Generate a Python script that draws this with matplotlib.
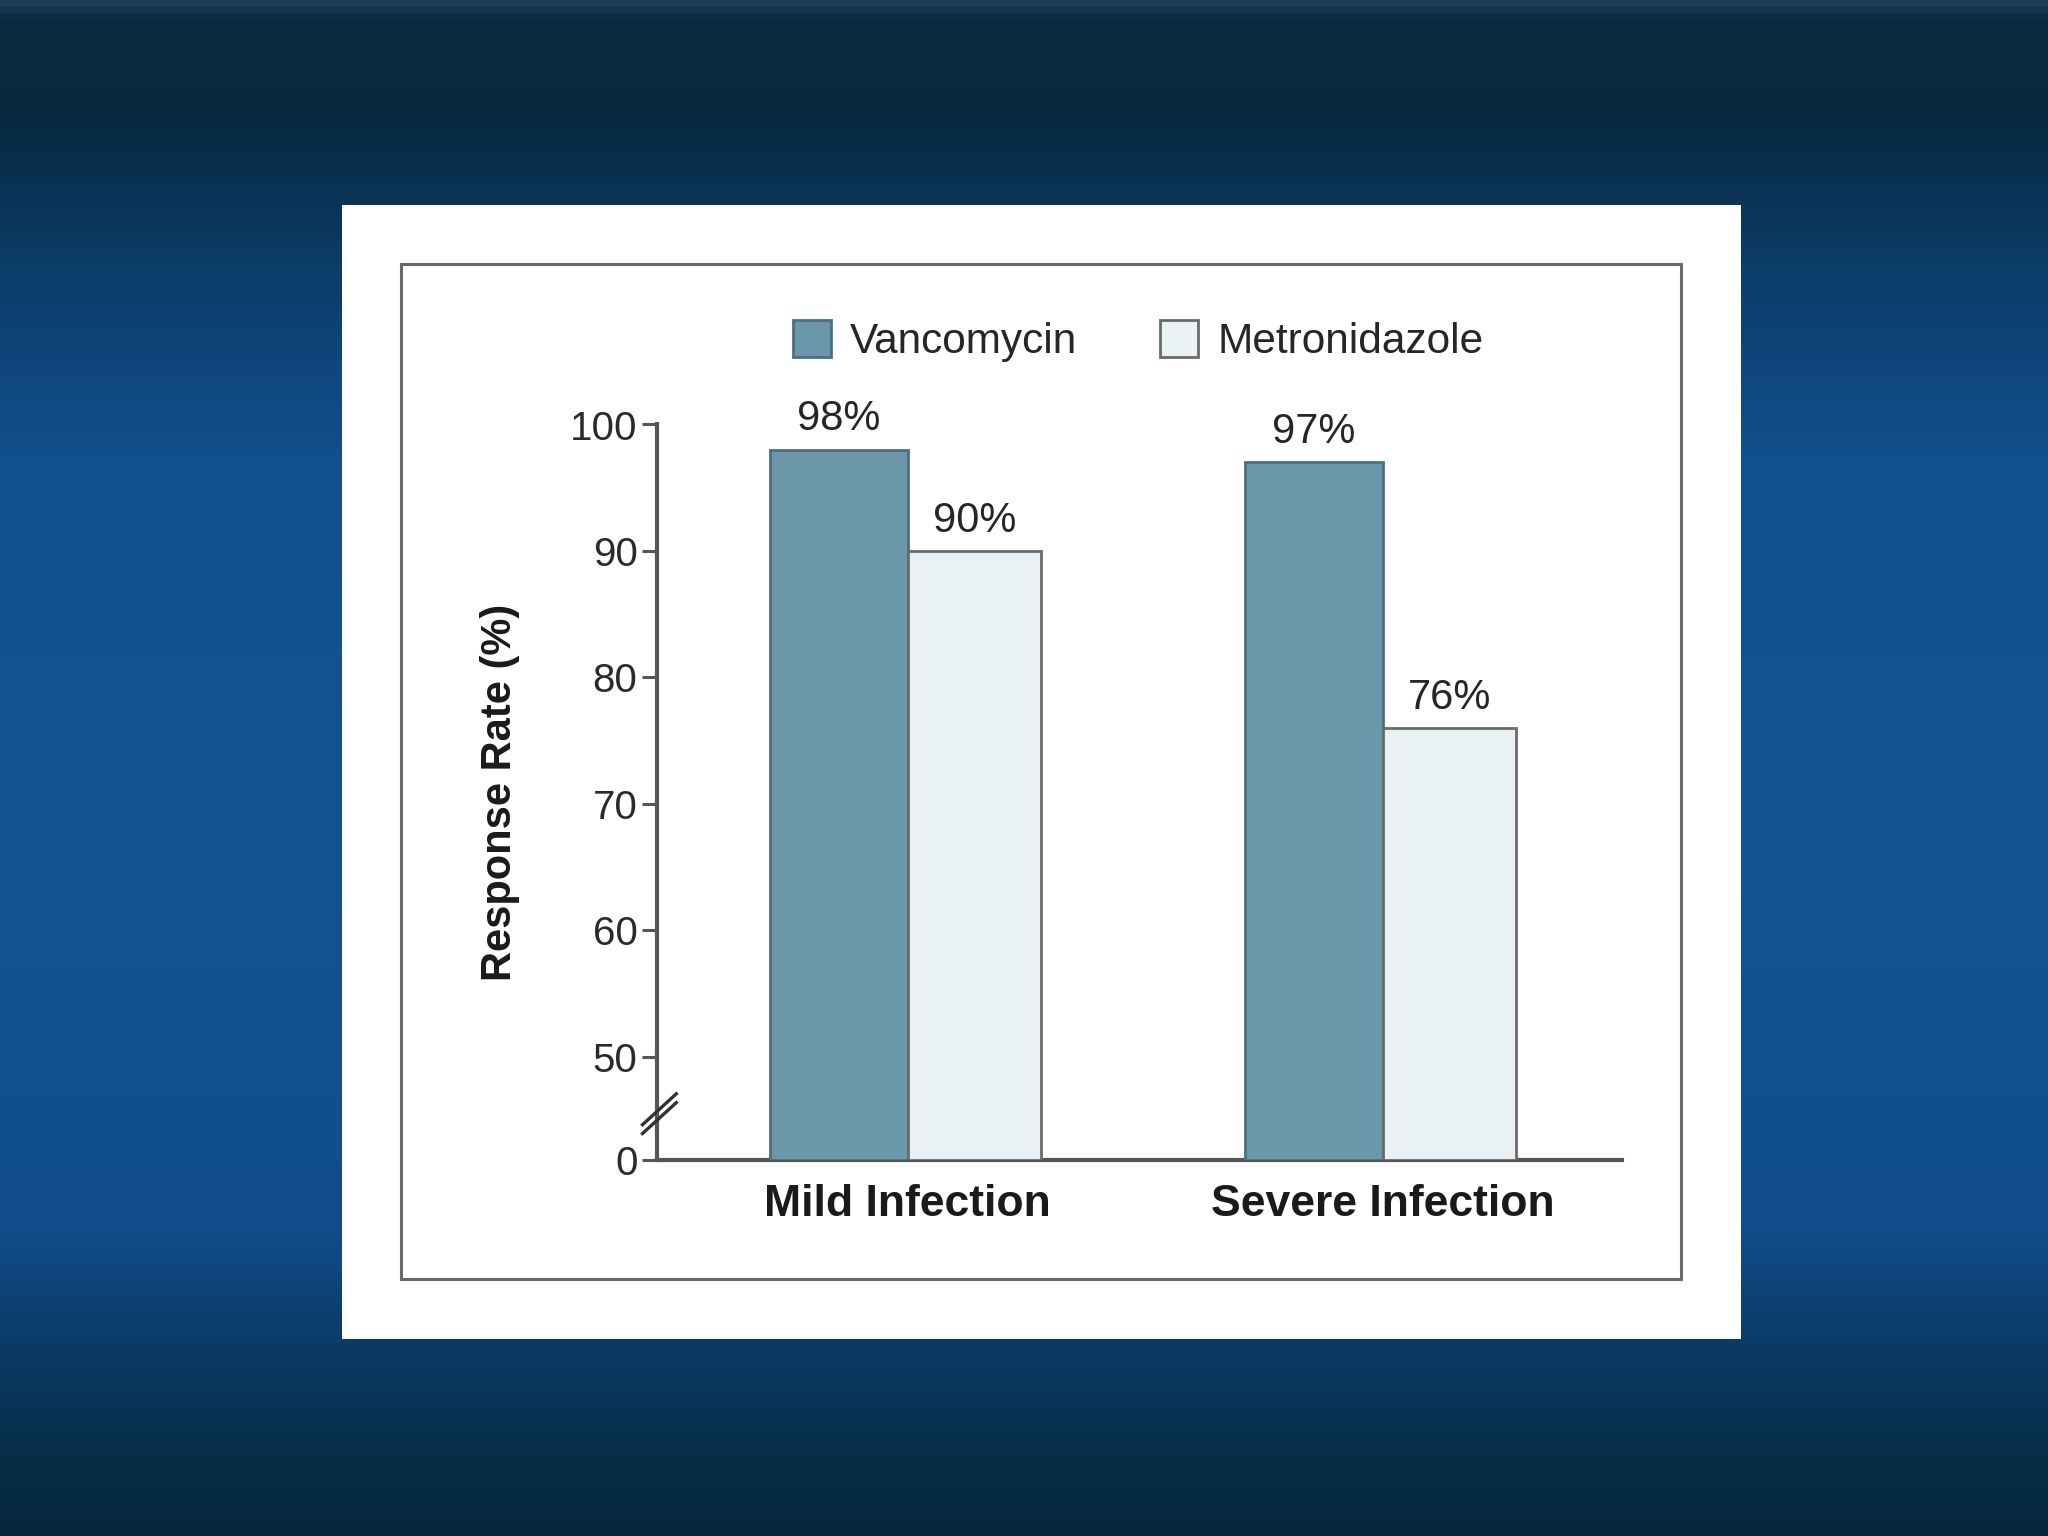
import numpy as np
import matplotlib
matplotlib.use("Agg")
import matplotlib.pyplot as plt
from matplotlib.patches import Rectangle, Patch
from matplotlib.colors import LinearSegmentedColormap

# ---- data ----
categories = ["Mild Infection", "Severe Infection"]
series_names = ["Vancomycin", "Metronidazole"]
vancomycin = [98, 97]
metronidazole = [90, 76]
ytick_values = [0, 50, 60, 70, 80, 90, 100]
ytick_labels = ["0", "50", "60", "70", "80", "90", "100"]
ylabel = "Response Rate (%)"

# ---- style ----
plt.rcParams["font.family"] = ["Liberation Sans", "DejaVu Sans"]
W, H = 2048, 1536
fig = plt.figure(figsize=(W / 100, H / 100), dpi=100)

# background gradient
bg = fig.add_axes([0, 0, 1, 1], zorder=-10)
bg.set_axis_off()
cmap = LinearSegmentedColormap.from_list(
    "bgblue",
    [(0.0, "#1b3d58"), (0.01, "#0b2a40"), (0.08, "#082a42"), (0.17, "#0c3c68"),
     (0.30, "#12508e"), (0.55, "#145393"), (0.80, "#114d8b"), (0.88, "#0b3a66"),
     (0.95, "#072e48"), (1.0, "#06283e")])
grad = np.linspace(0, 1, 512).reshape(-1, 1)
bg.imshow(grad, aspect="auto", cmap=cmap, extent=[0, 1, 0, 1], origin="upper")
bg.set_xlim(0, 1)
bg.set_ylim(0, 1)

def fx(px):
    return px / W

def fy(py):
    return 1 - py / H

# white panel
fig.patches.append(Rectangle((fx(342), fy(1339)), fx(1741) - fx(342), fy(205) - fy(1339),
                             transform=fig.transFigure, facecolor="white", edgecolor="none", zorder=-5))
# inner border
fig.patches.append(Rectangle((fx(401), fy(1279)), fx(1681) - fx(401), fy(264) - fy(1279),
                             transform=fig.transFigure, facecolor="none", edgecolor="#6a6a6a",
                             linewidth=2.2, zorder=-4))

# broken y scale
g = 8.16
def fwd(v):
    v = np.asarray(v, dtype=float)
    return np.where(v >= 50, v - 50 + g, v * g / 50)

def inv(u):
    u = np.asarray(u, dtype=float)
    return np.where(u >= g, u + 50 - g, u * 50 / g)

ax_left, ax_right, ax_top, ax_bot = 657, 1622, 424.5, 1160
ax = fig.add_axes([fx(ax_left), fy(ax_bot), fx(ax_right) - fx(ax_left), fy(ax_top) - fy(ax_bot)])
ax.set_facecolor("none")
ax.set_yscale("function", functions=(fwd, inv))
ax.set_ylim(0, 100)
ax.set_xlim(-0.528, 1.503)

x = np.arange(len(categories))
w = 0.29
vc_face, vc_edge = "#6a97aa", "#4e6f7e"
mt_face, mt_edge = "#eaf1f5", "#6a6a6a"
b1 = ax.bar(x - w / 2, vancomycin, width=w, color=vc_face, edgecolor=vc_edge, linewidth=2.0, zorder=3)
b2 = ax.bar(x + w / 2 - 0.005, metronidazole, width=w - 0.01, color=mt_face, edgecolor=mt_edge,
            linewidth=2.0, zorder=3)

for bars, vals in ((b1, vancomycin), (b2, metronidazole)):
    for r, v in zip(bars, vals):
        ax.annotate(f"{v}%", (r.get_x() + r.get_width() / 2, v), xytext=(0, 14),
                    textcoords="offset points", ha="center", va="baseline",
                    fontsize=30, color="#262626")

# spines
for s in ("top", "right"):
    ax.spines[s].set_visible(False)
for s in ("left", "bottom"):
    ax.spines[s].set_color("#555555")
    ax.spines[s].set_linewidth(3.0)

ax.set_yticks(ytick_values)
ax.set_yticklabels(ytick_labels)
ax.tick_params(axis="y", length=11, width=2.2, color="#555555", labelsize=29,
               labelcolor="#2a2a2a", pad=3)
ax.yaxis.set_minor_locator(matplotlib.ticker.NullLocator())
ax.set_xticks(x)
ax.set_xticklabels(categories, fontsize=32, fontweight="bold", color="#1a1a1a")
ax.tick_params(axis="x", length=0, pad=17)

ax.set_ylabel(ylabel, fontsize=30, fontweight="bold", color="#1a1a1a", labelpad=36)

# break marks on y axis
for dy in (0.0, 0.012):
    ax.plot([-0.015, 0.020], [0.036 + dy, 0.078 + dy], transform=ax.transAxes,
            color="#333333", linewidth=2.4, clip_on=False, zorder=5)

# legend
handles = [Patch(facecolor=vc_face, edgecolor=vc_edge, linewidth=2),
           Patch(facecolor=mt_face, edgecolor=mt_edge, linewidth=2)]
fig.legend(handles, series_names, loc="center", bbox_to_anchor=(fx(1138), fy(341)),
           ncol=2, frameon=False, fontsize=30.5, handlelength=0.9, handleheight=0.95,
           handletextpad=0.45, columnspacing=1.95, labelcolor="#262626")

fig.savefig("out.png", dpi=100)
